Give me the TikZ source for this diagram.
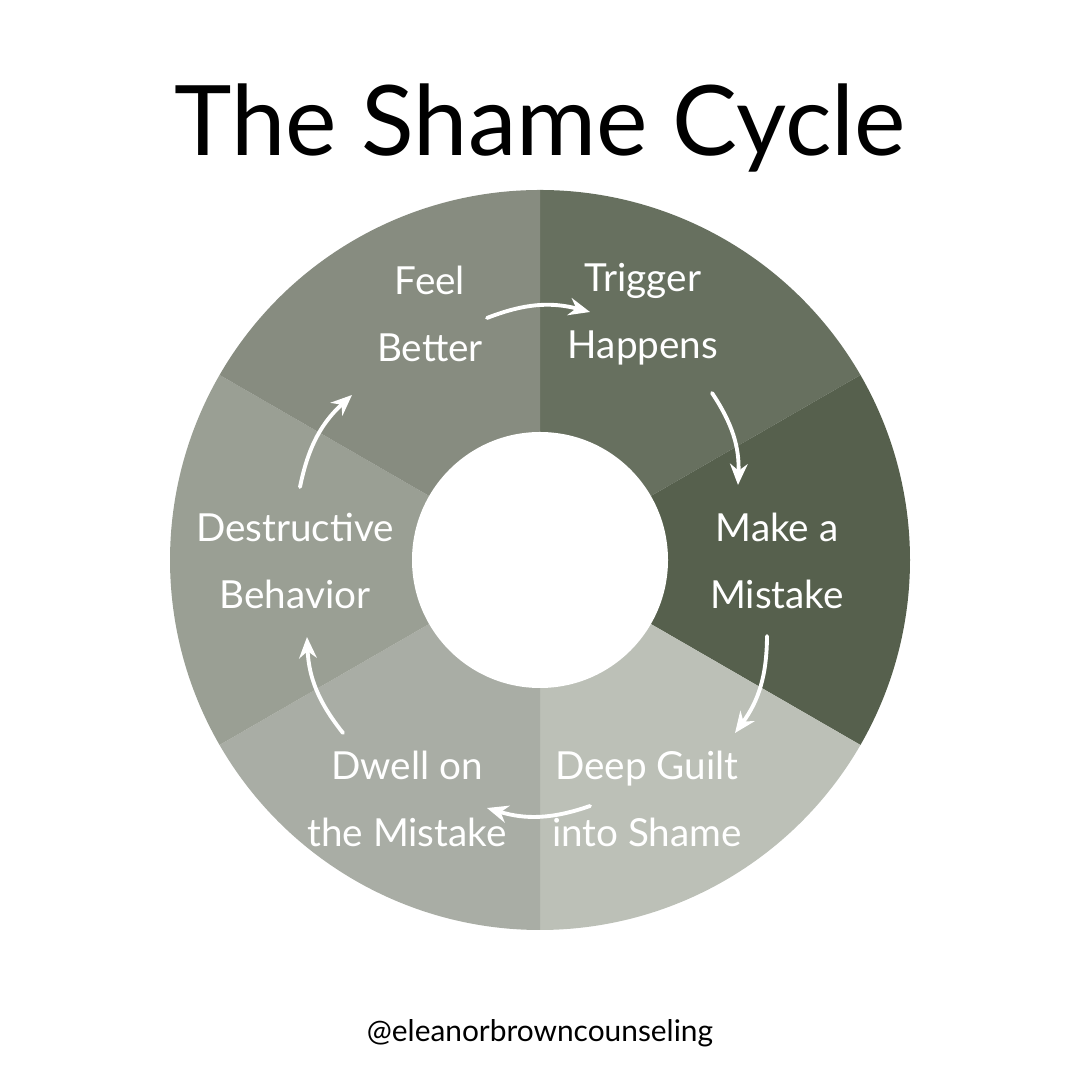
\documentclass[tikz,border=0pt]{standalone}
\usepackage{fontspec}
\setmainfont{Lato}
\usetikzlibrary{arrows.meta, calc}
\definecolor{segA}{HTML}{67705F}
\definecolor{segB}{HTML}{56604D}
\definecolor{segC}{HTML}{BCC0B7}
\definecolor{segD}{HTML}{A9ADA5}
\definecolor{segE}{HTML}{9A9F94}
\definecolor{segF}{HTML}{878C80}
\begin{document}
\begin{tikzpicture}[
    lbl/.style={text=white, align=center, font=\fontsize{11}{19}\selectfont},
    flow/.style={white, line width=1.1pt, line cap=round, -{Stealth[length=6pt,width=5pt]}, bend left=18}
  ]
        \useasboundingbox (0,0) rectangle (10.8,10.8);
        \coordinate (O) at (5.4,5.2);

        % ring
        \foreach \a/\b/\c in {90/30/segA, 30/-30/segB, -30/-90/segC, -90/-150/segD, 210/150/segE, 150/90/segF}
            \fill[\c] (O) -- ($(O)+(\a:3.7)$) arc (\a:\b:3.7) -- cycle;
        \fill[white] (O) circle (1.28);

        \node[font=\fontsize{27.7}{33}\selectfont] (title) at (5.4,9.52) {The Shame Cycle};

        \node[lbl] (trig) at (6.43,7.66) {Trigger\\Happens};
        \node[lbl] (mist) at (7.77,5.19) {Make a\\Mistake};
        \node[lbl] (guilt) at (6.47,2.81) {Deep Guilt\\into Shame};
        \node[lbl] (dwell) at (4.07,2.81) {Dwell on\\the Mistake};
        \node[lbl] (destr) at (2.95,5.19) {Destructive\\Behavior};
        \node[lbl] (feel) at (4.30,7.66) {Feel\\Better};

        \coordinate (fb1) at (4.87,7.62);
        \coordinate (tr1) at (5.90,7.68);
        \coordinate (tr2) at (7.12,6.87);
        \coordinate (mk1) at (7.38,5.95);
        \coordinate (mk2) at (7.67,4.44);
        \coordinate (dg1) at (7.35,3.47);
        \coordinate (dg2) at (5.90,2.74);
        \coordinate (dw1) at (4.87,2.72);
        \coordinate (dw2) at (3.43,3.47);
        \coordinate (de1) at (3.07,4.43);
        \coordinate (de2) at (3.00,5.93);
        \coordinate (fb2) at (3.52,6.85);

        \draw[flow] (fb1) to (tr1);
        \draw[flow] (tr2) to (mk1);
        \draw[flow] (mk2) to (dg1);
        \draw[flow] (dg2) to (dw1);
        \draw[flow] (dw2) to (de1);
        \draw[flow] (de2) to (fb2);

        \node[font=\fontsize{8.5}{10}\selectfont] (handle) at (5.4,0.47) {@eleanorbrowncounseling};
\end{tikzpicture}
\end{document}
